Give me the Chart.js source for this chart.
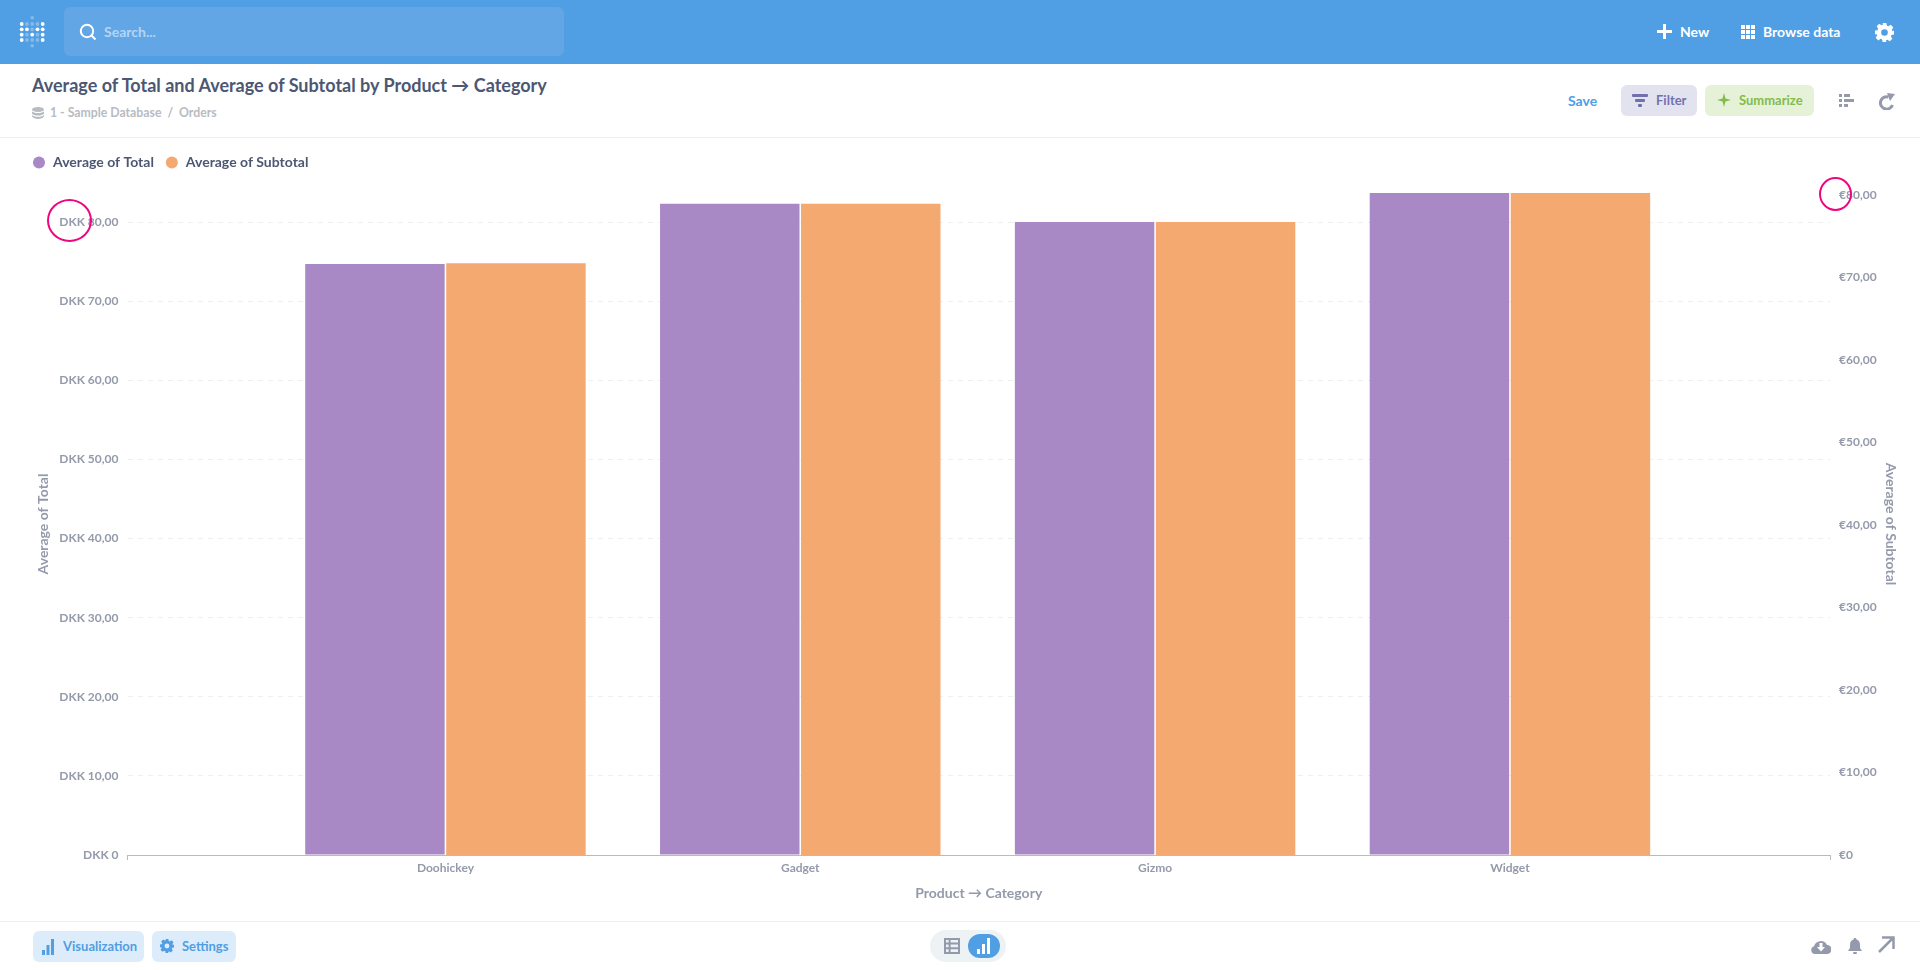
<!DOCTYPE html>
<html>
<head>
<meta charset="utf-8">
<title>Average of Total and Average of Subtotal by Product → Category</title>
<script src="https://cdn.jsdelivr.net/npm/chart.js@4"></script>
<style>
html, body { margin: 0; padding: 0; background: #fff; overflow: hidden; }
body { width: 1920px; height: 970px; position: relative; font-family: Lato, sans-serif; font-weight: 700; color: #4c5773; }
.abs { position: absolute; white-space: nowrap; }
svg { display: block; }
#nav { left: 0; top: 0; width: 1920px; height: 64px; background: #509ee3; }
#search { left: 64px; top: 7px; width: 500px; height: 49px; background: #62a6e6; border-radius: 6px; }
.line { left: 0; width: 1920px; height: 1px; background: #edeff1; }
.btn { border-radius: 6px; height: 31px; line-height: 31px; font-size: 13px; }
.ring { border: 2px solid #f0047f; border-radius: 50%; box-sizing: border-box; }
#wrap { left: 0; top: 138px; width: 1920px; height: 783px; }
</style>
</head>
<body>
<div class="abs" id="nav"></div>
<!-- logo -->
<svg class="abs" id="logo" style="left:18px;top:14px" width="30" height="36"></svg>
<div class="abs" id="search"></div>
<svg class="abs" style="left:79px;top:23px" width="18" height="18" viewBox="0 0 18 18" fill="none" stroke="#fff" stroke-width="2"><circle cx="8" cy="8" r="6.2"/><path d="M12.5 12.5L16.5 16.5"/></svg>
<div class="abs" style="left:104px;top:23px;font-size:14px;line-height:17px;color:#b4d5f3">Search...</div>
<svg class="abs" style="left:1657px;top:24px" width="15" height="15" fill="#fff"><rect x="6" width="3" height="15"/><rect y="6" width="15" height="3"/></svg>
<div class="abs" style="left:1680px;top:23px;font-size:14px;line-height:17px;color:#fff">New</div>
<svg class="abs" id="grid" style="left:1741px;top:25px" width="14" height="14" fill="#fff"></svg>
<div class="abs" style="left:1763px;top:23px;font-size:14px;line-height:17px;color:#fff">Browse data</div>
<svg class="abs" style="left:1875px;top:23px" width="19" height="19" viewBox="0 0 20 20"><path fill="#fff" fill-rule="evenodd" d="M8 0h4l.5 2.800 1.600.7 2.400-1.600 2.800 2.800-1.600 2.400.7 1.600L20 8v4l-2.600.5-.7 1.600 1.600 2.400-2.800 2.800-2.400-1.600-1.600.7L12 20H8l-.5-2.600-1.600-.7-2.400 1.600-2.800-2.800 1.600-2.400-.7-1.600L0 12V8l2.600-.5.7-1.600-1.600-2.400 2.800-2.800 2.400 1.600 1.600-.7zM10 6.500a3.500 3.500 0 1 0 0 7 3.500 3.500 0 0 0 0-7z"/></svg>

<div class="abs" style="left:32px;top:73px;font-size:18px;line-height:24px">Average of Total and Average of Subtotal by Product → Category</div>
<svg class="abs" style="left:32px;top:107px" width="12" height="12" fill="#b8bbc3"><ellipse cx="6" cy="2.5" rx="6" ry="2.5"/><path d="M0 4.2c1 1.2 3 1.8 6 1.8s5-.6 6-1.8v2.3C11 8 9 8.500 6 8.500S1 8 0 6.500z"/><path d="M0 8c1 1.200 3 1.800 6 1.800S11 9.200 12 8v1.500C11 11 9 12 6 12S1 11 0 9.500z"/></svg>
<div class="abs" style="left:50px;top:105px;font-size:12.25px;line-height:16px;color:#b8bbc3">1 - Sample Database&nbsp; /&nbsp; Orders</div>
<div class="abs" style="left:1568px;top:92px;font-size:14px;line-height:17px;color:#509ee3">Save</div>
<div class="abs btn" style="left:1621px;top:85px;width:76px;background:#e3e3f0"></div>
<svg class="abs" style="left:1632px;top:94px" width="16" height="13" fill="#7172ad"><rect width="16" height="3" rx="1"/><rect x="3" y="5" width="10" height="3" rx="1"/><rect x="6" y="10" width="4" height="3" rx="1"/></svg>
<div class="abs" style="left:1656px;top:92px;font-size:13px;line-height:17px;color:#7172ad;">Filter</div>
<div class="abs btn" style="left:1705px;top:85px;width:109px;background:#e5f2d8"></div>
<svg class="abs" style="left:1717px;top:93px" width="14" height="14" fill="#84bb4c"><path d="M7 0L8.500 5.500L14 7L8.500 8.500L7 14L5.500 8.500L0 7L5.500 5.500z"/></svg>
<div class="abs" style="left:1739px;top:92px;font-size:13px;line-height:17px;color:#84bb4c">Summarize</div>
<svg class="abs" style="left:1839px;top:94px" width="15" height="13" fill="#949aab"><rect width="3" height="3"/><rect x="5" width="6" height="3"/><rect y="5" width="3" height="3"/><rect x="5" y="5" width="10" height="3"/><rect y="10" width="3" height="3"/><rect x="5" y="10" width="4" height="3"/></svg>
<svg class="abs" style="left:1879px;top:93px" width="16" height="17" viewBox="0 0 16 17" fill="none" stroke="#949aab" stroke-width="3"><path d="M13.500 12A6.200 6.200 0 1 1 9.500 4"/><path d="M8 0L16 1L11 8z" fill="#949aab" stroke="none"/></svg>
<div class="abs line" style="top:137px"></div>

<div class="abs" id="wrap"><canvas id="chart1" width="1920" height="783"></canvas></div>

<div class="abs line" style="top:921px"></div>
<div class="abs btn" style="left:33px;top:931px;width:111px;background:#ddecfa"></div>
<svg class="abs" style="left:42px;top:939px" width="12" height="16" fill="#509ee3"><rect y="11" width="3" height="5"/><rect x="4.500" y="6" width="3" height="10"/><rect x="9" width="3" height="16"/></svg>
<div class="abs" style="left:63px;top:938px;font-size:13px;line-height:17px;color:#509ee3">Visualization</div>
<div class="abs btn" style="left:152px;top:931px;width:84px;background:#ddecfa"></div>
<svg class="abs" style="left:160px;top:939px" width="14" height="14" viewBox="0 0 20 20"><path fill="#509ee3" fill-rule="evenodd" d="M8 0h4l.5 2.800 1.600.7 2.400-1.600 2.800 2.800-1.600 2.400.7 1.600L20 8v4l-2.600.5-.7 1.600 1.600 2.400-2.800 2.800-2.400-1.600-1.600.7L12 20H8l-.5-2.600-1.600-.7-2.400 1.600-2.800-2.800 1.600-2.400-.7-1.600L0 12V8l2.600-.5.7-1.600-1.600-2.400 2.800-2.800 2.400 1.600 1.600-.7zM10 6.500a3.500 3.500 0 1 0 0 7 3.500 3.500 0 0 0 0-7z"/></svg>
<div class="abs" style="left:182px;top:938px;font-size:13px;line-height:17px;color:#509ee3">Settings</div>
<div class="abs" style="left:930px;top:930px;width:76px;height:32px;border-radius:16px;background:#edf2f5"></div>
<svg class="abs" style="left:944px;top:938px" width="16" height="16" fill="none" stroke="#949aab" stroke-width="2"><rect x="1" y="1" width="14" height="14"/><path d="M1 5.600H15M1 10.300H15M5.600 1V15"/></svg>
<div class="abs" style="left:968px;top:934px;width:32px;height:24px;border-radius:12px;background:#509ee3"></div>
<svg class="abs" style="left:977px;top:938px" width="14" height="16" fill="#fff"><rect y="11" width="3" height="5"/><rect x="5" y="6" width="3" height="10"/><rect x="10" width="3" height="16"/></svg>
<svg class="abs" style="left:1811px;top:939px" width="20" height="16" viewBox="0 0 20 16"><path fill="#949aab" d="M4 15a4 4 0 0 1-1-7.800A7 7 0 0 1 16 6a4.500 4.500 0 0 1 0 9z"/><path fill="#fff" d="M8.500 4h3v4H14l-4 4.500L6 8h2.500z"/></svg>
<svg class="abs" style="left:1848px;top:938px" width="14" height="16" fill="#949aab"><path d="M7 0c1 0 1.500.7 1.500 1.500C11 2.300 12 4 12 7v3l2 3H0l2-3V7c0-3 1-4.700 3.500-5.500C5.500.7 6 0 7 0z"/><rect x="5" y="14" width="4" height="2" rx="1"/></svg>
<svg class="abs" style="left:1878px;top:936px" width="17" height="17" fill="none" stroke="#949aab" stroke-width="2.500"><path d="M1 16L15 2M4 1.500H15.500V13"/></svg>

<div class="abs ring" style="left:47px;top:199px;width:45px;height:43px"></div>
<div class="abs ring" style="left:1819px;top:177px;width:33px;height:34px"></div>

<script>
// Values
const categories = ['Doohickey', 'Gadget', 'Gizmo', 'Widget'];
const avg_total = [74.7, 82.3, 80.0, 83.67];
const avg_subtotal = [71.7, 78.9, 76.7, 80.2];
const total_ticks = [0, 10, 20, 30, 40, 50, 60, 70, 80];
const subtotal_ticks = [0, 10, 20, 30, 40, 50, 60, 70, 80];

const purple = '#a989c5';
const orange = '#f3a96f';
const axis_text = '#949aab';
const axis_line = '#b8bbc3';

// x range leaves the wider empty margins the original has on both ends
const x_min = -0.896;
const x_max = 3.902;

// small svg bits in the page chrome
const logo_rows = ['10001', '11011', '10101', '10001'];
let logo_svg = '<circle cx="14.200" cy="3.700" r="1.800" fill="#fff" opacity="0.3"/><circle cx="14.200" cy="31.700" r="1.800" fill="#fff" opacity="0.3"/>';
logo_rows.forEach((row, r) => {
    row.split('').forEach((on, c) => {
        logo_svg += `<circle cx="${3.7 + c * 5.25}" cy="${10 + r * 5.33}" r="1.900" fill="#fff" opacity="${on === '1' ? 1 : 0.3}"/>`;
    });
});
document.getElementById('logo').innerHTML = logo_svg;
let grid_svg = '';
for (let c = 0; c < 3; c++) {
    for (let r = 0; r < 3; r++) {
        grid_svg += `<rect x="${c * 5}" y="${r * 5}" width="4" height="4"/>`;
    }
}
document.getElementById('grid').innerHTML = grid_svg;

const to_points = (values) => values.map((v, i) => ({ x: i, y: v }));
const money = (prefix, v) => prefix + (v === 0 ? '0' : v.toFixed(2).replace('.', ','));

// pushes the plot down a bit under the legend
const legend_gap = {
    id: 'legend_gap',
    beforeInit(chart) {
        const old_fit = chart.legend.fit;
        chart.legend.fit = function () {
            old_fit.call(this);
            this.height += 13.5;
        };
    }
};

let chart_canvas1 = document.getElementById('chart1');

let chart = new Chart(chart_canvas1, {
    type: 'bar',
    data: {
        datasets: [
            { label: 'Average of Total', data: to_points(avg_total), yAxisID: 'yTotal', backgroundColor: purple, hoverBackgroundColor: purple },
            { label: 'Average of Subtotal', data: to_points(avg_subtotal), yAxisID: 'ySubtotal', backgroundColor: orange, hoverBackgroundColor: orange }
        ]
    },
    plugins: [legend_gap],
    options: {
        responsive: false,
        animation: false,
        devicePixelRatio: 1,
        // the ruler measures from the shortest tick gap, which is x_min to 0
        categoryPercentage: 0.887,
        barPercentage: 0.989,
        layout: { padding: { left: 21, right: 0, top: 6.5, bottom: 0 } },
        plugins: {
            tooltip: { enabled: false },
            legend: {
                position: 'top',
                align: 'start',
                labels: {
                    usePointStyle: true,
                    pointStyle: 'circle',
                    boxWidth: 14,
                    boxHeight: 8.5,
                    padding: 11,
                    color: '#4c5773',
                    font: { family: 'Lato', size: 14, weight: 'bold' }
                }
            }
        },
        scales: {
            x: {
                type: 'linear',
                offset: false,
                min: x_min,
                max: x_max,
                afterBuildTicks: (scale) => {
                    scale.ticks = [x_min, 0, 1, 2, 3, x_max].map(v => ({ value: v }));
                },
                afterFit: (scale) => { scale.height = 66; },
                grid: {
                    offset: false,
                    drawOnChartArea: false,
                    tickLength: 5,
                    tickColor: (ctx) => Number.isInteger(ctx.tick.value) ? 'transparent' : axis_line
                },
                border: { color: axis_line, width: 1 },
                ticks: {
                    color: axis_text,
                    autoSkip: false,
                    maxRotation: 0,
                    padding: 1,
                    font: { family: 'Lato', size: 12, weight: 'bold' },
                    callback: (v) => categories[v] || ''
                },
                title: {
                    display: true,
                    text: 'Product → Category',
                    color: axis_text,
                    padding: { top: 0, bottom: 19.6 },
                    font: { family: 'Lato', size: 14, weight: 'bold' }
                }
            },
            yTotal: {
                position: 'left',
                min: 0,
                max: 83.67,
                afterBuildTicks: (scale) => { scale.ticks = total_ticks.map(v => ({ value: v })); },
                afterFit: (scale) => { scale.width = 127.5 - 21; },
                grid: {
                    color: (ctx) => ctx.tick.value === 0 ? 'transparent' : '#edeff1',
                    drawTicks: false
                },
                border: { display: false, dash: [5, 5] },
                ticks: {
                    color: axis_text,
                    padding: 9,
                    font: { family: 'Lato', size: 12, weight: 'bold' },
                    callback: (v) => money('DKK ', v)
                },
                title: {
                    display: true,
                    text: 'Average of Total',
                    color: axis_text,
                    padding: { top: 13.6, bottom: 0 },
                    font: { family: 'Lato', size: 14, weight: 'bold' }
                }
            },
            ySubtotal: {
                position: 'right',
                min: 0,
                max: 80.2,
                afterBuildTicks: (scale) => { scale.ticks = subtotal_ticks.map(v => ({ value: v })); },
                afterFit: (scale) => { scale.width = 90; },
                grid: { display: false, drawTicks: false },
                border: { display: false },
                ticks: {
                    color: axis_text,
                    padding: 9,
                    font: { family: 'Lato', size: 12, weight: 'bold' },
                    callback: (v) => money('€', v)
                },
                title: {
                    display: true,
                    text: 'Average of Subtotal',
                    color: axis_text,
                    padding: { top: 21, bottom: 0 },
                    font: { family: 'Lato', size: 14, weight: 'bold' }
                }
            }
        }
    }
});
</script>
</body>
</html>
